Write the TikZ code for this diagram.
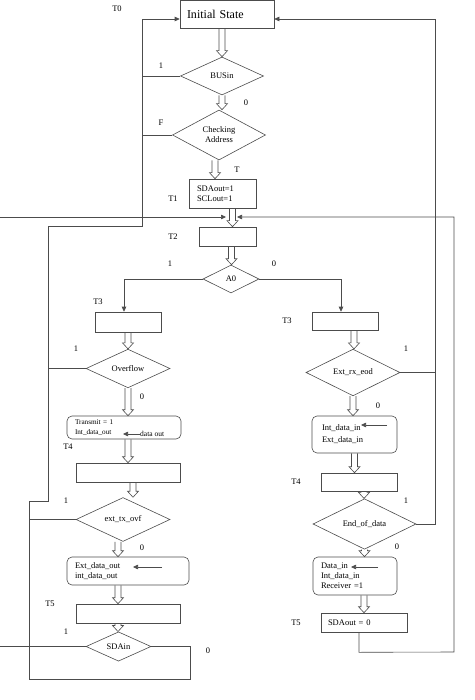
\documentclass[tikz,border=0pt]{standalone}
\usepackage{fontspec}
\setmainfont{Liberation Serif}
\usetikzlibrary{calc,shapes.geometric,arrows.meta}

\begin{document}
\begin{tikzpicture}[x=1pt,y=-1pt,font={\fontsize{8.5}{10}\selectfont},
    line/.style={draw=black!70,line width=.6pt},
    box/.style={line,rectangle,inner sep=0pt},
    state/.style={line,rectangle,align=left,inner ysep=0pt,inner xsep=8pt},
    test/.style={line,diamond,inner sep=0pt,align=center},
    lbl/.style={inner sep=0pt},
    arr/.style={line,-{Triangle[length=5pt,width=4.5pt]}},
    flow/.style={line,to path={let \p1=(\tikztostart),\p2=(\tikztotarget) in
        (\x1-3pt,\y1) -- (\x1-3pt,\y2+6pt) -- (\x1-5.5pt,\y2+6pt) -- (\x1,\y2)
        -- (\x1+5.5pt,\y2+6pt) -- (\x1+3pt,\y2+6pt) -- (\x1+3pt,\y1)}}]
    \useasboundingbox (0,0) rectangle (474,700);

    % main column
    \node[state,text width=80pt,inner xsep=7pt,minimum height=28pt,font={\fontsize{12}{14}\selectfont}] (init) at (227,14.5) {Initial State};
    \node[test,minimum width=83pt,minimum height=38pt] (bus) at (222,76) {BUSin};
    \node[test,minimum width=93pt,minimum height=50pt] (chk) at (219,135) {Checking\\Address};
    \node[state,text width=51pt,minimum height=29pt] (sdaone) at (222.5,193.5) {SDAout=1\\SCLout=1};
    \node[box,minimum width=57pt,minimum height=19pt] (ttwo) at (227.5,236.5) {};
    \node[test,minimum width=56pt,minimum height=28pt] (azero) at (231,279) {A0};

    % left branch
    \node[box,minimum width=66pt,minimum height=20pt] (tthreel) at (128,322) {};
    \node[test,minimum width=84pt,minimum height=37pt] (ovf) at (128,368.5) {Overflow};
    \node[state,rounded corners=5pt,text width=98pt,minimum height=23pt,font={\fontsize{7.2}{10}\selectfont}] (tx) at (124,427.5) {Transmit = 1\\Int\_data\_out};
    \node[box,minimum width=104pt,minimum height=19pt] (tfourl) at (128,472.5) {};
    \node[test,minimum width=94pt,minimum height=37pt] (etx) at (123,519.5) {ext\_tx\_ovf};
    \node[state,rounded corners=5pt,text width=106pt,minimum height=28pt] (exo) at (128,571) {Ext\_data\_out\\int\_data\_out};
    \node[box,minimum width=104pt,minimum height=19pt] (tfivel) at (128,613.5) {};
    \node[test,minimum width=65pt,minimum height=29pt] (sdain) at (118.5,646.5) {SDAin};

    % right branch
    \node[box,minimum width=66pt,minimum height=18pt] (tthreer) at (345,321) {};
    \node[test,minimum width=94pt,minimum height=45pt] (eod) at (353,372.5) {Ext\_rx\_eod};
    \node[state,rounded corners=5pt,text width=65pt,inner xsep=10pt,minimum height=37pt] (rxi) at (354.5,434.5) {Int\_data\_in\\[2pt]Ext\_data\_in};
    \node[box,minimum width=76pt,minimum height=18pt] (tfourr) at (359,482) {};
    \node[test,minimum width=103pt,minimum height=28pt] (end) at (364.5,524) {End\_of\_data};
    \node[state,rounded corners=5pt,text width=68pt,minimum height=38pt] (din) at (355,576) {Data\_in\\Int\_data\_in\\Receiver =1};
    \node[state,text width=72pt,inner xsep=7pt,minimum height=19pt] (sdazero) at (364,622.5) {SDAout = 0};

    % labels
    \node[lbl] (ltzero) at (117,9) {T0};
    \node[lbl] (lbusone) at (161,66) {1};
    \node[lbl] (lbuszero) at (246,103) {0};
    \node[lbl] (lchkf) at (161,123) {F};
    \node[lbl] (lchkt) at (237,170) {T};
    \node[lbl] (ltone) at (173,199) {T1};
    \node[lbl] (lttwo) at (173,237) {T2};
    \node[lbl] (lazeroone) at (170,264) {1};
    \node[lbl] (lazerozero) at (274,264) {0};
    \node[lbl] (ltthreel) at (98,302) {T3};
    \node[lbl] (ltthreer) at (287,321) {T3};
    \node[lbl] (lovfone) at (76,349) {1};
    \node[lbl] (lovfzero) at (142,397) {0};
    \node[lbl] (ltfourl) at (68,447) {T4};
    \node[lbl] (letxone) at (66,501) {1};
    \node[lbl] (letxzero) at (142,548) {0};
    \node[lbl] (ltfivel) at (50,604) {T5};
    \node[lbl] (lsdainone) at (66,632) {1};
    \node[lbl] (lsdainzero) at (208,651) {0};
    \node[lbl] (leodone) at (406,349) {1};
    \node[lbl] (leodzero) at (378,406) {0};
    \node[lbl] (ltfourr) at (296,482) {T4};
    \node[lbl] (lendone) at (406,501) {1};
    \node[lbl] (lendzero) at (397,547) {0};
    \node[lbl] (ltfiver) at (296,623) {T5};
    \node[lbl,anchor=west,font={\fontsize{7.5}{9}\selectfont}] (dout) at (140,434) {data out};

    \coordinate (offl) at (0,217);
    \coordinate (offs) at (0,646.5);
    \coordinate (inl) at (226,217);
    \coordinate (inr) at (237,217);
    \coordinate (intout) at (123,434);
    \coordinate (exoa) at (162,567);
    \coordinate (exob) at (133,567);
    \coordinate (rxa) at (387,425);
    \coordinate (rxb) at (361,425);
    \coordinate (dina) at (378,567);
    \coordinate (dinb) at (351,567);

    % hollow double arrows
    \draw[flow] ([xshift=-5pt]init.south) to (bus.north);
    \draw[flow] (bus.south) to (chk.north);
    \draw[flow] ([xshift=-4pt]chk.south) to (sdaone.north);
    \draw[flow] ([xshift=10pt]sdaone.south) to (ttwo.north);
    \draw[flow] ([xshift=4pt]ttwo.south) to (azero.north);
    \draw[flow] (tthreel.south) to (ovf.north);
    \draw[flow] (ovf.south) to (tx.north);
    \draw[flow] ([xshift=4pt]tx.south) to (tfourl.north);
    \draw[flow] ([xshift=5pt]tfourl.south) to (etx.north);
    \draw[flow] ([xshift=-5pt]etx.south) to (exo.north);
    \draw[flow] ([xshift=-10pt]exo.south) to (tfivel.north);
    \draw[flow] ([xshift=-10pt]tfivel.south) to (sdain.north);
    \draw[flow] ([xshift=9pt]tthreer.south) to (eod.north);
    \draw[flow] (eod.south) to (rxi.north);
    \draw[flow] (rxi.south) to (tfourr.north);
    \draw[flow] ([xshift=5pt]tfourr.south) to (end.north);
    \draw[flow] (end.south) to (din.north);
    \draw[flow] ([xshift=9pt]din.south) to (sdazero.north);

    % branches
    \draw[arr] (azero.west) -| ([xshift=-4pt]tthreel.north);
    \draw[arr] (azero.east) -| ([xshift=-4pt]tthreer.north);

    % back to initial state
    \draw[arr] (sdain.east) -- (190,646.5) -- (190,679) -- (29,679) -- (29,501) -- (48,501)
        -- (48,226) -- (142,226) -- (142,19) -- (init.west |- 0,19);
    \draw[line] (etx.west) -- (29,519.5);
    \draw[line] (ovf.west) -- (48,368.5);
    \draw[line] (bus.west) -- (142,76);
    \draw[line] (chk.west) -- (142,135);
    \draw[arr] (end.east) -- (435,524) -- (435,19) -- (init.east |- 0,19);
    \draw[line] (eod.east) -- (435,372.5);

    % back to T2
    \draw[arr] ([xshift=-5pt]sdazero.south) -- ++(0,20) -- (454,652) -- (454,217) -- (inr);
    \draw[line] (sdain.west) -- (offs);
    \draw[arr] (offl) -- (inl);

    % data arrows
    \draw[arr] (dout.west) -- (intout);
    \draw[arr] (exoa) -- (exob);
    \draw[arr] (rxa) -- (rxb);
    \draw[arr] (dina) -- (dinb);
\end{tikzpicture}
\end{document}
